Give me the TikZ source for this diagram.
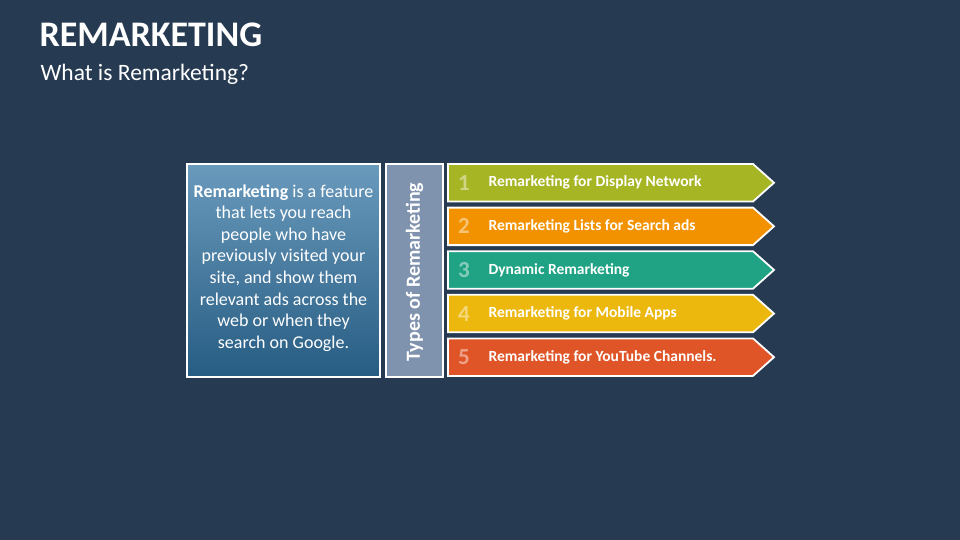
\documentclass[tikz,border=0pt]{standalone}
\usepackage{fontspec}
\setmainfont{Carlito}
\begin{document}
\begin{tikzpicture}[x=1pt,y=-1pt,
  arr/.style={draw=white,line width=1.8pt},
  num/.style={font=\bfseries\fontsize{23}{23}\selectfont,anchor=center},
  lab/.style={font=\bfseries\fontsize{15.5}{16}\selectfont,text=white,anchor=west}]
\definecolor{bg}{HTML}{263A52}
\fill[bg] (0,0) rectangle (960,540);
\useasboundingbox (0,0) rectangle (960,540);
\node[anchor=west,text=white,font=\bfseries\fontsize{36}{36}\selectfont] (title) at (36,35) {REMARKETING};
\node[anchor=west,text=white,font=\fontsize{23.5}{24}\selectfont] (sub) at (37,74) {What is Remarketing?};
\definecolor{lb1}{HTML}{8DB8D6}\definecolor{lb2}{HTML}{2C6690}
\shade[left color=lb1!70!lb2,right color=lb2,shading angle=0] (187,164) rectangle (380,377);
\shade[top color=lb1!60!lb2,bottom color=lb2!85!black,opacity=0.6] (187,164) rectangle (380,377);
\draw[white,line width=1.8pt] (187,164) rectangle (380,377);
\node[text=white,align=center,font=\fontsize{18}{21.6}\selectfont] (desc) at (283.5,268) {\textbf{Remarketing} is a feature\\that lets you reach\\people who have\\previously visited your\\site, and show them\\relevant ads across the\\web or when they\\search on Google.};
\definecolor{gr}{HTML}{8093AE}
\draw[white,line width=1.8pt,fill=gr] (386,164) rectangle (443,377);
\node[rotate=90,text=white,font=\bfseries\fontsize{20}{20}\selectfont] (types) at (414.5,272) {Types of Remarketing};
\foreach \i/\c/\n/\t in {0/A6B523/1/Remarketing for Display Network,1/F39200/2/Remarketing Lists for Search ads,2/1FA384/3/Dynamic Remarketing,3/EDB80E/4/Remarketing for Mobile Apps,4/E05527/5/Remarketing for YouTube Channels.}{
  \definecolor{cc}{HTML}{\c}
  \pgfmathsetmacro{\ya}{164+43.6*\i}
  \pgfmathsetmacro{\yb}{\ya+37.5}
  \pgfmathsetmacro{\ym}{\ya+18.75}
  \draw[arr,fill=cc] (448,\ya) -- (753,\ya) -- (774,\ym) -- (753,\yb) -- (448,\yb) -- cycle;
  \node[num,text=white!45!cc] (n\i) at (464,\ym) {\n};
  \node[lab] (t\i) at (485,\ym) {\t};
}
\end{tikzpicture}
\end{document}
